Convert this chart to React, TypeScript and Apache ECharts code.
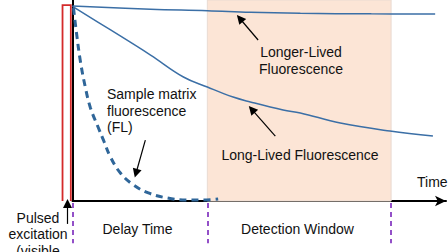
import React, { useEffect, useRef } from "react";
import * as echarts from "echarts";

// Time axis in arbitrary units (0..100), intensity in arbitrary units (0..100)
const longerLivedX = [0, 20.9, 36.1, 47.6, 61.0, 80.0, 97.1];
const longerLivedY = [97.0, 95.4, 94.7, 93.9, 93.4, 93.1, 93.0];

const longLivedX = [0, 10.2, 20.9, 29.7, 36.1, 43.0, 47.6, 56.4, 61.0, 71.7, 85.0, 96.5];
const longLivedY = [96.8, 85.1, 72.6, 61.7, 56.7, 51.7, 49.3, 45.3, 43.8, 38.8, 34.8, 32.3];

const matrixFlX = [0.27, 1.07, 2.14, 3.48, 4.81, 6.95, 8.29, 10.16, 12.83, 16.31, 20.32, 25.4, 30.7, 35.0, 39.0];
const matrixFlY = [96.0, 83.6, 69.2, 56.2, 46.3, 36.3, 30.3, 21.9, 13.9, 8.0, 4.0, 1.5, 0.5, 0.5, 1.0];

// pulsed excitation (rectangular pulse)
const pulseX = [-2.67, -2.67, -0.45, -0.45];
const pulseY = [0, 97.5, 97.5, 0];

// detection window bounds
const windowStart = 36.1;
const windowEnd = 85.3;

// purple dashed markers below the axis
const markerX = [0.1, 36.1, 85.3];
const markerTop = -1;
const markerBottom = -21;

// annotation arrows: [tailX, tailY, headX, headY]
const arrows = [
  [49.7, 80.1, 44.8, 90.8],
  [54.3, 32.3, 48.0, 45.6],
  [19.5, 30.3, 17.0, 13.8],
  [-1.34, -11.4, -1.34, -1.2],
];

const zip = (xs: number[], ys: number[]) => xs.map((x, i) => [x, ys[i]]);

const FONT = '"Liberation Sans", Arial, sans-serif';
const TEXT = "#111";

export default function App() {
  const ref = useRef<HTMLDivElement>(null);
  useEffect(() => {
    if (!ref.current) return;
    const chart = echarts.init(ref.current, null, { renderer: "svg" });
    const txt = (text: string, x: number, y: number, align: string, va: string, lh = 16.5) => ({
      type: "text",
      z: 100,
      style: {
        text,
        x,
        y,
        fill: TEXT,
        fontSize: 14,
        fontFamily: FONT,
        align,
        verticalAlign: va,
        lineHeight: lh,
      },
    });
    chart.setOption({
      animation: false,
      grid: { left: 72.5, right: 2, top: 0, bottom: 51 },
      xAxis: {
        type: "value",
        min: 0,
        max: 100,
        axisLine: {
          show: true,
          onZero: false,
          symbol: ["none", "arrow"],
          symbolSize: [8, 11],
          lineStyle: { color: "#000", width: 2 },
        },
        axisTick: { show: false },
        axisLabel: { show: false },
        splitLine: { show: false },
      },
      yAxis: {
        type: "value",
        min: 0,
        max: 100,
        axisLine: { show: true, onZero: false, lineStyle: { color: "#000", width: 2 } },
        axisTick: { show: false },
        axisLabel: { show: false },
        splitLine: { show: false },
      },
      series: [
        {
          type: "line",
          data: zip(longerLivedX, longerLivedY),
          smooth: 0.4,
          symbol: "none",
          lineStyle: { color: "#3b6fa6", width: 1.5 },
          z: 3,
          markArea: {
            silent: true,
            itemStyle: { color: "#fce5d6", borderColor: "#e9dbd2", borderWidth: 1 },
            data: [[{ xAxis: windowStart }, { xAxis: windowEnd }]],
          },
        },
        {
          type: "line",
          data: zip(longLivedX, longLivedY),
          smooth: 0.4,
          symbol: "none",
          lineStyle: { color: "#3b6fa6", width: 1.5 },
          z: 3,
        },
        {
          type: "line",
          data: zip(matrixFlX, matrixFlY),
          smooth: 0.4,
          symbol: "none",
          lineStyle: { color: "#2f6699", width: 3, type: [7, 5] },
          z: 3,
        },
        {
          type: "lines",
          coordinateSystem: "cartesian2d",
          polyline: true,
          clip: false,
          symbol: "none",
          lineStyle: { color: "#d42a2a", width: 1.8, opacity: 1 },
          data: [{ coords: zip(pulseX, pulseY) }],
          z: 4,
        },
        {
          type: "lines",
          coordinateSystem: "cartesian2d",
          clip: false,
          symbol: ["none", "triangle"],
          symbolSize: 9,
          lineStyle: { color: "#000", width: 1.2, opacity: 1 },
          itemStyle: { color: "#000" },
          data: arrows.map((a) => ({ coords: [[a[0], a[1]], [a[2], a[3]]] })),
          z: 5,
        },
        {
          type: "lines",
          coordinateSystem: "cartesian2d",
          clip: false,
          symbol: "none",
          lineStyle: { color: "#9350c8", width: 2, type: [5, 4], opacity: 1 },
          data: markerX.map((x) => ({ coords: [[x, markerTop], [x, markerBottom]] })),
          z: 5,
        },
      ],
      graphic: [
        txt("Longer-Lived\nFluorescence", 301, 43.5, "center", "top", 17),
        txt("Sample matrix\nfluorescence\n(FL)", 107, 86, "left", "top"),
        txt("Long-Lived Fluorescence", 300, 155, "center", "middle"),
        txt("Time", 417, 182, "left", "middle"),
        txt("Pulsed\nexcitation\n(visible", 38, 209.5, "center", "top"),
        txt("Delay Time", 137.5, 229, "center", "middle"),
        txt("Detection Window", 297.5, 229, "center", "middle"),
      ],
    });
    return () => chart.dispose();
  }, []);
  return (
    <div
      ref={ref}
      style={{ position: "fixed", left: 0, top: 0, width: 448, height: 252, background: "#fff" }}
    />
  );
}
